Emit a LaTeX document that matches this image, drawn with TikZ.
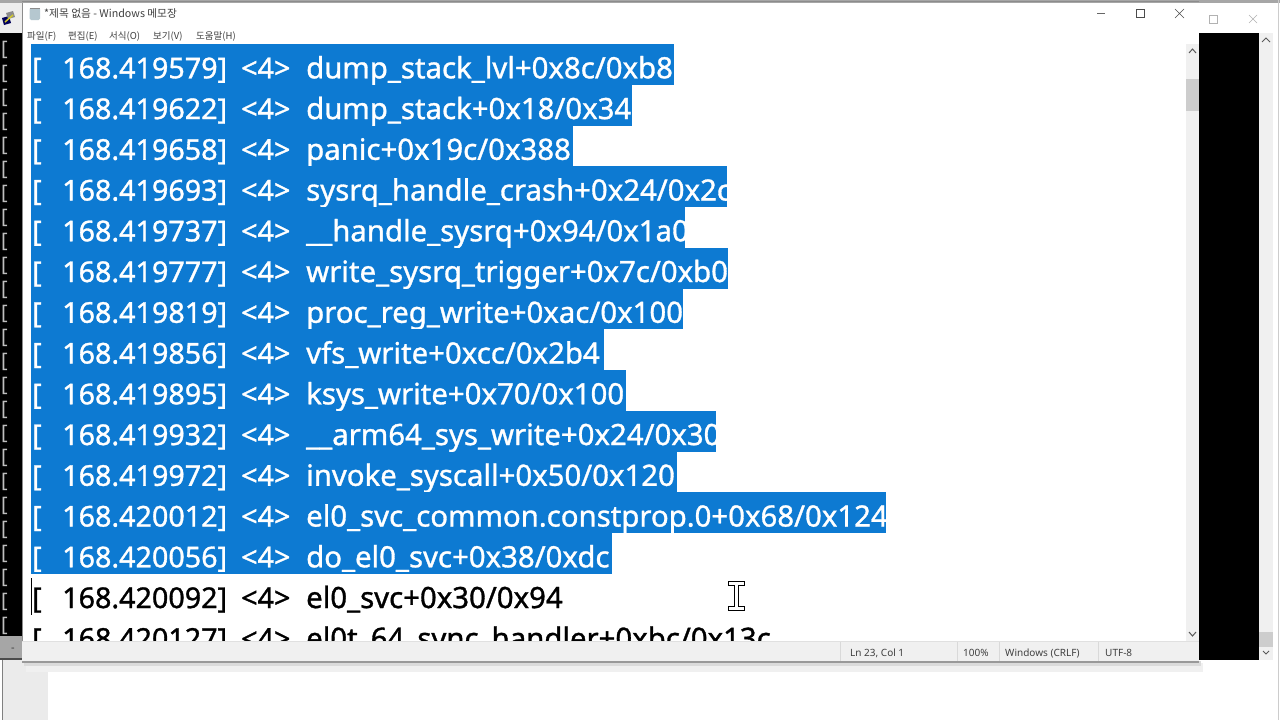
\documentclass[tikz,border=0pt]{standalone}
\usepackage{fontspec}
\setmainfont{Noto Sans}
\newfontfamily\korean{Noto Sans CJK KR}
\newfontfamily\logfont[RawFeature={embolden=1.1}]{Noto Sans}

\definecolor{selblue}{HTML}{0D7AD2}
\definecolor{barGray}{HTML}{F0F0F0}
\definecolor{thumbGray}{HTML}{CDCDCD}

\tikzset{
    logtext/.style={anchor=base west, inner sep=0pt, font=\logfont\fontsize{28.7}{30}\selectfont},
    calltext/.style={logtext, font=\logfont\fontsize{29.35}{30}\selectfont},
    termtext/.style={anchor=base west, inner sep=0pt, white!75!black, font=\fontsize{20}{22}\selectfont},
    uitext/.style={anchor=base west, inner sep=0pt, black!75, font=\fontsize{10}{12}\selectfont},
    menutext/.style={uitext, font=\korean\fontsize{9.5}{12}\selectfont},
    scrollarrow/.style={draw=black!65, line width=1pt, fill=none},
}

\begin{document}
\begin{tikzpicture}[
        x=1pt, y=-1pt,
        declare function={
            Width=1280;
            Height=720;
            LineTop=44;
            LinePitch=40.75;
            BaseFirst=78.3;
        }
    ]
        \useasboundingbox (0, 0) rectangle (Width, Height);
        \fill[white] (0, 0) rectangle (Width, Height);

        % windows behind the notepad
        \fill[black!35] (0, 0) rectangle (Width, 3);
        \fill[white!93!black] (0, 3) rectangle (22, 33);
        \fill[black] (0, 33) rectangle (22, 636);
        \fill[black!35] (0, 636) rectangle (22, 658);
        \fill[black!70] (0, 658) rectangle (22, 660);
        \node[uitext, font=\fontsize{11}{12}\selectfont] (termdash) at (11, 651) {-};
        \fill[black!8] (2, 660) rectangle (48, Height);
        \draw[black!50] (2, 660) -- (2, Height);
        \foreach \Row in {0, 1, ..., 24} {
            \node[termtext] (term\Row) at (1, {55 + \Row*24}) {[};
        }
        \fill[blue!35!black] (2, 18) -- (9, 16) -- (11, 23) -- (4, 25) -- cycle;
        \fill[black!45] (6, 13) -- (13, 11) -- (15, 17) -- (8, 19) -- cycle;
        \draw[yellow!80!black, line width=1.5pt] (5, 22) -- (13, 15);

        \fill[white] (1199, 7) rectangle (1273, 660);
        \fill[black] (1199, 33) rectangle (1259, 660);
        \fill[barGray] (1259, 33) rectangle (1273, 660);
        \fill[thumbGray] (1259, 632) rectangle (1273, 647);
        \draw[black!20] (1278, 0) -- (1278, Height);
        \draw[black!30] (1209, 15) rectangle (1217, 23);
        \draw[black!30] (1249, 15) -- (1257, 23) (1249, 23) -- (1257, 15);
        \draw[scrollarrow] (1262, 42) -- (1266, 38) -- (1270, 42);
        \draw[scrollarrow] (1263, 651) -- (1266, 654) -- (1269, 651);

        % notepad window
        \fill[black!6] (26, 663) rectangle (1203, 672);
        \fill[black!14] (24, 661) rectangle (1201, 666);
        \fill[black!40] (22, 661) rectangle (1199, 662.5);
        \fill[white] (22, 3) rectangle (1199, 661);
        \draw[black!45] (22, 3) -- (22, 661);
        \draw[black!45] (22, 1) -- (1199, 1);

        % title bar and menu
        \fill[cyan!25!gray!55, rounded corners=1.5pt] (29.5, 8) rectangle (40, 20);
        \draw[black!45] (29.5, 8) -- (40, 8);
        \node[uitext, font=\korean\fontsize{10.7}{12}\selectfont] (title) at (44, 17) {*제목 없음 - Windows 메모장};
        \node[menutext] (menuFile) at (27, 39) {파일(F)};
        \node[menutext] (menuEdit) at (68, 39) {편집(E)};
        \node[menutext] (menuForm) at (109, 39) {서식(O)};
        \node[menutext] (menuView) at (153, 39) {보기(V)};
        \node[menutext] (menuHelp) at (196, 39) {도움말(H)};
        \draw[black!60] (1097, 13) -- (1105, 13);
        \draw[black!70] (1136, 9) rectangle (1144, 17);
        \draw[black!70] (1175, 9) -- (1184, 18) (1175, 18) -- (1184, 9);

        % log lines, selected ones first
        \begin{scope}
            \clip (31, 44) rectangle (1186, 640);
            \foreach \Row/\Stamp/\Call/\SelEnd in {
                0/419579/{dump\_stack\_lvl+0x8c/0xb8}/674,
                1/419622/{dump\_stack+0x18/0x34}/632,
                2/419658/{panic+0x19c/0x388}/573,
                3/419693/{sysrq\_handle\_crash+0x24/0x2c}/727,
                4/419737/{\_\_handle\_sysrq+0x94/0x1a0}/685,
                5/419777/{write\_sysrq\_trigger+0x7c/0xb0}/728,
                6/419819/{proc\_reg\_write+0xac/0x100}/683,
                7/419856/{vfs\_write+0xcc/0x2b4}/604,
                8/419895/{ksys\_write+0x70/0x100}/626,
                9/419932/{\_\_arm64\_sys\_write+0x24/0x30}/716,
                10/419972/{invoke\_syscall+0x50/0x120}/677,
                11/420012/{el0\_svc\_common.constprop.0+0x68/0x124}/886,
                12/420056/{do\_el0\_svc+0x38/0xdc}/612} {
                \fill[selblue] (31, {LineTop + \Row*LinePitch}) rectangle (\SelEnd, {LineTop + (\Row+1)*LinePitch});
                \node[logtext, white] (open\Row) at (32, {BaseFirst + \Row*LinePitch}) {[};
                \node[logtext, white] (stamp\Row) at (62, {BaseFirst + \Row*LinePitch}) {168.\Stamp]};
                \node[logtext, white] (level\Row) at (241, {BaseFirst + \Row*LinePitch}) {<4>};
                \node[calltext, white] (call\Row) at (306, {BaseFirst + \Row*LinePitch}) {\Call};
            }
            \foreach \Row/\Stamp/\Call in {
                13/420092/{el0\_svc+0x30/0x94},
                14/420127/{el0t\_64\_sync\_handler+0xbc/0x13c}} {
                \node[logtext] (open\Row) at (32, {BaseFirst + \Row*LinePitch}) {[};
                \node[logtext] (stamp\Row) at (62, {BaseFirst + \Row*LinePitch}) {168.\Stamp]};
                \node[logtext] (level\Row) at (241, {BaseFirst + \Row*LinePitch}) {<4>};
                \node[calltext] (call\Row) at (306, {BaseFirst + \Row*LinePitch}) {\Call};
            }
        \end{scope}
        \draw[black, line width=1pt] (31.5, 578) -- (31.5, 615);

        % i-beam pointer
        \draw[black, fill=white, line width=0.8pt] (728, 581) -- (744, 581) -- (744, 585) -- (738, 585) -- (738, 606) -- (744, 606) -- (744, 610) -- (728, 610) -- (728, 606) -- (734, 606) -- (734, 585) -- (728, 585) -- cycle;

        % vertical scroll bar
        \fill[barGray] (1186, 44) rectangle (1199, 641);
        \fill[thumbGray] (1186, 79) rectangle (1199, 111);
        \draw[scrollarrow] (1189, 53) -- (1192.5, 49) -- (1196, 53);
        \draw[scrollarrow] (1189, 632) -- (1192.5, 636) -- (1196, 632);

        % status bar
        \fill[barGray] (22, 641) rectangle (1199, 661);
        \draw[black!12] (22, 641.5) -- (1199, 641.5);
        \draw[black!15] (840.5, 642) -- (840.5, 661) (957.5, 642) -- (957.5, 661) (999.5, 642) -- (999.5, 661) (1098.5, 642) -- (1098.5, 661);
        \node[uitext] (statusPos) at (850, 656) {Ln 23, Col 1};
        \node[uitext] (statusZoom) at (963, 656) {100\%};
        \node[uitext] (statusEol) at (1005, 656) {Windows (CRLF)};
        \node[uitext] (statusEnc) at (1105, 656) {UTF-8};
    \end{tikzpicture}
\end{document}
